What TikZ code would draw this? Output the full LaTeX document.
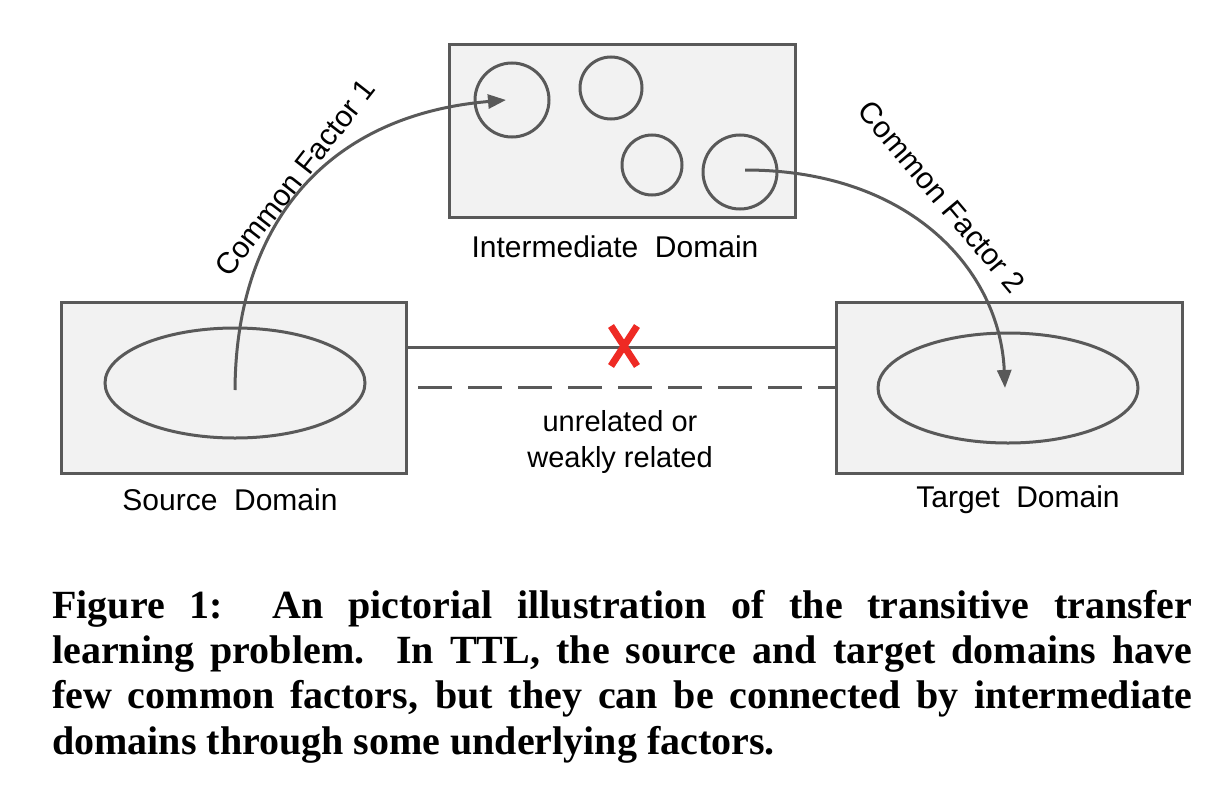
\documentclass[tikz,border=0pt]{standalone}
\usepackage{fontspec}
\setmainfont{Liberation Serif}
\newfontfamily\lab{Liberation Sans}
\usetikzlibrary{arrows.meta}
\definecolor{ln}{HTML}{595959}
\definecolor{bx}{HTML}{F2F2F2}
\definecolor{xr}{HTML}{EE2A24}
\tikzset{
 dom/.style={draw=ln,fill=bx,line width=3pt},
 blob/.style={draw=ln,line width=3pt},
 lbl/.style={font=\lab\fontsize{30}{36}\selectfont,align=center},
 arr/.style={draw=ln,line width=3pt,-{Triangle[length=18pt,width=14pt]}},
 link/.style={draw=ln,line width=3pt}
}
\begin{document}
\begin{tikzpicture}[x=1pt,y=-1pt]
\useasboundingbox (0,0) rectangle (1228,792);
\node[dom,minimum width=346pt,minimum height=172pt,inner sep=0] (inter) at (622,131) {};
\node[blob,circle,minimum size=74pt,inner sep=0] (c1) at (512,100) {};
\node[blob,circle,minimum size=62pt,inner sep=0] (c2) at (611,88) {};
\node[blob,circle,minimum size=60pt,inner sep=0] (c3) at (652,165) {};
\node[blob,circle,minimum size=74pt,inner sep=0] (c4) at (740,172) {};
\node[lbl] (interl) at (615,247) {Intermediate\ \ Domain};
\node[dom,minimum width=345pt,minimum height=171pt,inner sep=0] (src) at (234,388) {};
\node[dom,minimum width=346pt,minimum height=171pt,inner sep=0] (tgt) at (1009,388) {};
\draw[blob] (235,383) ellipse [x radius=130, y radius=55];
\draw[blob] (1008,388) ellipse [x radius=130, y radius=55];
\node[lbl] (srcl) at (230,500) {Source\ \ Domain};
\node[lbl] (tgtl) at (1018,500) {Target\ \ Domain};
\coordinate (s1) at (src.east |- 0,347);
\coordinate (t1) at (tgt.west |- 0,347);
\coordinate (s2) at (src.east |- 0,387);
\coordinate (t2) at (tgt.west |- 0,387);
\draw[link] (s1) -- (t1);
\draw[link,dash pattern=on 34pt off 16pt,dash phase=-10pt] (s2) -- (t2);
\coordinate (x) at (624,346);
\draw[xr,line width=7pt] ([shift={(-13,-20)}]x) -- ([shift={(13,20)}]x) ([shift={(13,-20)}]x) -- ([shift={(-13,20)}]x);
\node[lbl,font=\lab\fontsize{29}{36}\selectfont] (unrel) at (620,442) {unrelated or\\weakly related};
\coordinate (a1s) at (235,390);
\coordinate (a1e) at (506,100);
\draw[arr] (a1s) .. controls (236,220) and (330,115) .. (a1e);
\node[lbl,rotate=52] (cf1) at (295,178) {Common Factor 1};
\coordinate (a2s) at (745,170);
\coordinate (a2e) at (1005,388);
\draw[arr] (a2s) .. controls (910,170) and (1000,270) .. (a2e);
\node[lbl,rotate=-50] (cf2) at (942,197) {Common Factor 2};
\node[anchor=north west,text width=1140pt,align=justify,inner sep=0,font=\bfseries\fontsize{40}{45.3}\selectfont] (cap) at (52,590)
 {Figure 1:\ \ An pictorial illustration of the transitive transfer\linebreak learning problem. In TTL, the source and target domains have\linebreak few common factors, but they can be connected by intermediate\linebreak domains through some underlying factors.};
\end{tikzpicture}
\end{document}
